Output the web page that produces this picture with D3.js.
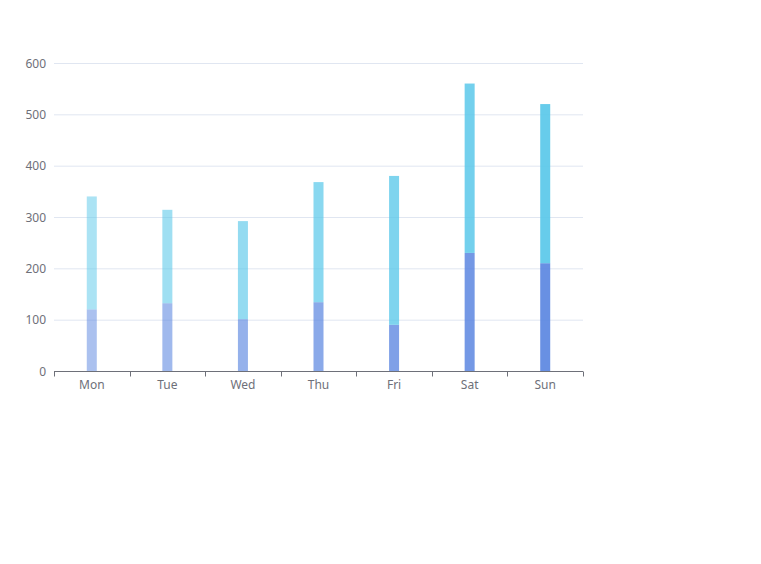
<!DOCTYPE html>
<html><head><meta charset="utf-8">
<script src="https://cdn.jsdelivr.net/npm/d3@7"></script>
<style>body{margin:0;background:#fff;font-family:"Microsoft YaHei","Noto Sans",sans-serif;}</style>
</head><body>
<script>
var days = ["Mon", "Tue", "Wed", "Thu", "Fri", "Sat", "Sun"];
var seriesA = [120, 132, 101, 134, 90, 230, 210];
var seriesB = [220, 182, 191, 234, 290, 330, 310];
var yTicks = [0, 100, 200, 300, 400, 500, 600];
var colorA = "#5884e0", colorB = "#57c7e9";

var W = 761, H = 564, padL = 54, padR = 583, padT = 63, padB = 371;
var svg = d3.select("body").append("svg").attr("width", W).attr("height", H);
var x = d3.scaleBand().domain(days).range([padL, padR]);
var y = d3.scaleLinear().domain([0, 600]).range([padB, padT]);
var op = d3.scaleLinear().domain([0, days.length - 1]).range([0.5, 0.9]);

svg.append("g").selectAll("line").data(yTicks.slice(1)).enter().append("line")
	.attr("x1", padL).attr("x2", padR)
	.attr("y1", function(d) { return y(d) + 0.5; }).attr("y2", function(d) { return y(d) + 0.5; })
	.attr("stroke", "#e0e6f1");

svg.append("g").selectAll("text").data(yTicks).enter().append("text")
	.attr("x", padL - 8).attr("y", function(d) { return y(d); })
	.attr("text-anchor", "end").attr("dominant-baseline", "central")
	.attr("font-size", 12).attr("fill", "#6e7079").text(function(d) { return d; });

var bw = 10;
days.forEach(function(d, i) {
	var cx = x(d) + x.bandwidth() / 2;
	svg.append("rect").attr("x", cx - bw / 2).attr("width", bw)
		.attr("y", y(seriesA[i])).attr("height", padB - y(seriesA[i]))
		.attr("fill", colorA).attr("fill-opacity", op(i));
	svg.append("rect").attr("x", cx - bw / 2).attr("width", bw)
		.attr("y", y(seriesA[i] + seriesB[i])).attr("height", y(seriesA[i]) - y(seriesA[i] + seriesB[i]))
		.attr("fill", colorB).attr("fill-opacity", op(i));
});

var ax = svg.append("g").attr("transform", "translate(0," + (padB + 0.5) + ")");
ax.append("line").attr("x1", padL).attr("x2", padR).attr("stroke", "#6e7079");
var ticks = days.map(function(d) { return x(d); }).concat([padR]);
ax.selectAll(".tk").data(ticks).enter().append("line")
	.attr("x1", function(d) { return Math.round(d) + 0.5; }).attr("x2", function(d) { return Math.round(d) + 0.5; })
	.attr("y1", 0).attr("y2", 5).attr("stroke", "#6e7079");
ax.selectAll("text").data(days).enter().append("text")
	.attr("x", function(d) { return x(d) + x.bandwidth() / 2; }).attr("y", 17)
	.attr("text-anchor", "middle").attr("font-size", 12).attr("fill", "#6e7079")
	.text(function(d) { return d; });
</script>
</body></html>
